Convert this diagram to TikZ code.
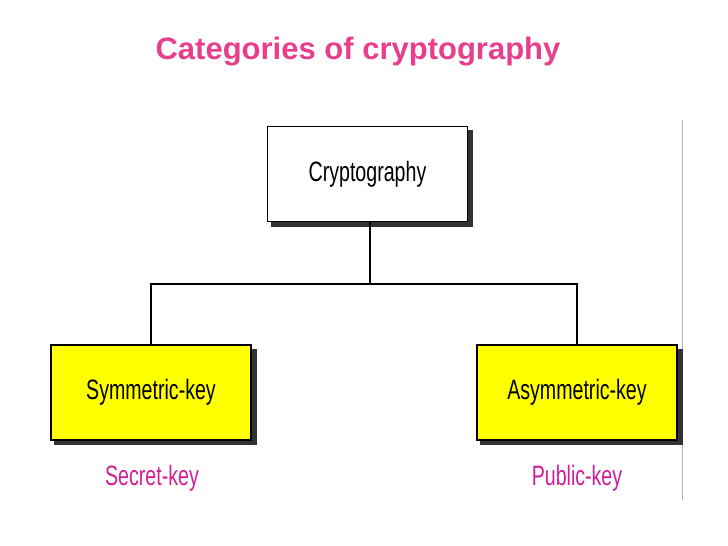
\documentclass[tikz,border=0pt]{standalone}
\usepackage{fontspec}
\setmainfont{Liberation Sans}
\newfontfamily\condf[FakeStretch=0.7]{Liberation Sans}
\definecolor{titlepink}{RGB}{232,62,140}
\definecolor{labmag}{RGB}{210,30,150}
\definecolor{boxyellow}{RGB}{255,255,0}
\definecolor{shadowgray}{RGB}{50,50,50}
\begin{document}
\begin{tikzpicture}[x=1pt,y=-1pt,
  boxst/.style={draw=black,line width=1.6pt,minimum width=200pt,minimum height=95pt,inner sep=0pt,
    font=\condf\fontsize{28}{30}\selectfont},
  shad/.style={fill=shadowgray},
  labst/.style={text=labmag,font=\condf\fontsize{28}{30}\selectfont},
  conn/.style={line width=1.6pt}]
\useasboundingbox (0,0) rectangle (728,546);
\node[text=titlepink,font=\bfseries\fontsize{31}{34}\selectfont] (title) at (358,52) {Categories of cryptography};
\draw[gray!60,line width=0.8pt] (682,120) -- (682,500);
% shadows
\fill[shad] (271,130) rectangle (473,227);
\fill[shad] (54,349) rectangle (257,445);
\fill[shad] (480,349) rectangle (683,445);
\node[boxst,fill=white] (c) at (367.5,174) {Cryptography};
\node[boxst,fill=boxyellow] (s) at (151,392.5) {Symmetric-key};
\node[boxst,fill=boxyellow] (a) at (577,392.5) {Asymmetric-key};
\coordinate (j) at (370,284);
\draw[conn] (370,222) -- (j);
\draw[conn] (s.north) |- (j) -| (a.north);
\node[labst] (sk) at (152,478) {Secret-key};
\node[labst] (pk) at (577,478) {Public-key};
\end{tikzpicture}
\end{document}
